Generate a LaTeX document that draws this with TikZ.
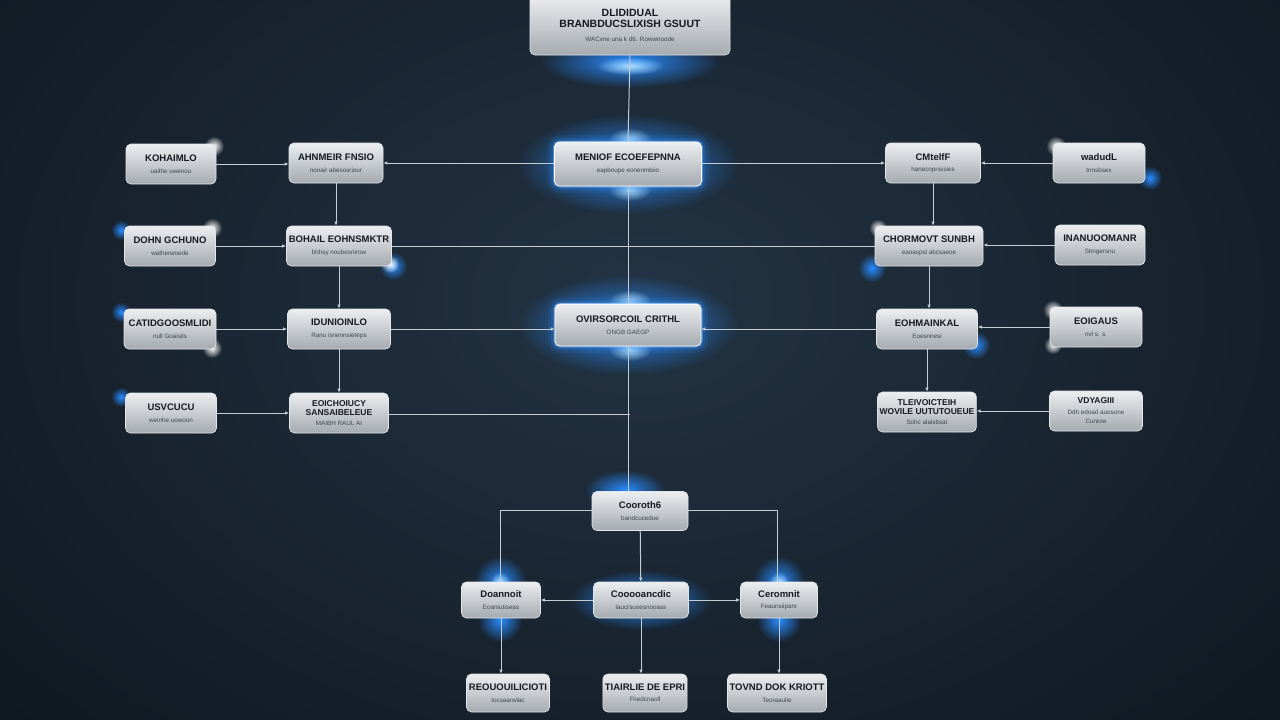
\documentclass[tikz,border=0pt]{standalone}
\usepackage{fontspec}
\setmainfont{Liberation Sans}
\usetikzlibrary{arrows.meta,fadings}
\definecolor{bgdark}{RGB}{10,15,21}
\definecolor{bglight}{RGB}{36,52,68}
\definecolor{boxtop}{RGB}{236,238,240}
\definecolor{boxbot}{RGB}{165,170,176}
\definecolor{boxline}{RGB}{225,230,235}
\definecolor{txt}{RGB}{22,26,32}
\definecolor{subc}{RGB}{64,70,78}
\definecolor{wire}{RGB}{196,204,212}
\definecolor{glowb}{RGB}{40,140,255}
\definecolor{glowc}{RGB}{170,220,255}
\tikzfading[name=glowfade, inner color=transparent!0, outer color=transparent!100]
\newcommand\sbx[1]{{\fontsize{6.3}{7.3}\selectfont\color{subc}#1}}
\newcommand\bxt[2]{\textbf{#1}\\[1pt]\sbx{#2}}
\newcommand\glw[3]{\fill[#3, path fading=glowfade] (#1) circle (#2);}
\newcommand\glwe[4]{\fill[#4, path fading=glowfade] (#1) ellipse (#2 and #3);}
\begin{document}
\begin{tikzpicture}[x=1pt,y=-1pt,
  bx/.style={rounded corners=5pt, draw=boxline, line width=0.7pt,
    top color=boxtop, bottom color=boxbot, text=txt, align=center,
    inner sep=2pt, minimum height=40pt, font=\fontsize{9.5}{10.5}\selectfont},
  aura/.style={preaction={draw=glowb, line width=14pt, opacity=0.10},
    preaction={draw=glowb, line width=8pt, opacity=0.18},
    preaction={draw=glowb!60!white, line width=3pt, opacity=0.5}},
  wr/.style={draw=wire, line width=1pt},
  ar/.style={wr, -{Latex[length=4pt,width=3.5pt]}}
]
\useasboundingbox (0,0) rectangle (1280,720);
\fill[bgdark] (0,0) rectangle (1280,720);
\fill[bglight, path fading=glowfade] (640,300) ellipse (1150 and 820);

% glows
\glwe{630,62}{90}{26}{glowb}
\glwe{630,66}{34}{9}{glowc}
\glwe{628,164}{110}{50}{glowb}
\glwe{628,325}{110}{50}{glowb}
\glwe{630,140}{22}{12}{glowc}
\glwe{630,189}{22}{12}{glowc}
\glwe{630,302}{22}{12}{glowc}
\glwe{630,349}{22}{12}{glowc}
\glwe{625,490}{40}{20}{glowb}
\glwe{641,600}{70}{30}{glowb}
\glw{500,582}{26}{glowb}
\glw{500,620}{22}{glowb}
\glw{779,582}{26}{glowb}
\glw{779,620}{22}{glowb}
\glw{500,582}{10}{glowc}
\glw{779,582}{10}{glowc}
\glw{872,268}{14}{glowb}
\glw{976,345}{14}{glowb}
\glw{1150,178}{12}{glowb}
\glw{121,230}{10}{glowb}
\glw{121,312}{10}{glowb}
\glw{121,397}{10}{glowb}
\glw{393,266}{14}{glowb}
% white sparkles
\glw{214,146}{10}{white}
\glw{212,228}{10}{white}
\glw{212,348}{10}{white}
\glw{390,264}{9}{white}
\glw{1056,146}{10}{white}
\glw{1053,310}{10}{white}
\glw{1053,345}{9}{white}
\glw{878,228}{9}{white}

\node[bx, minimum width=200pt, minimum height=60pt, font=\fontsize{10.5}{11.5}\selectfont] (top) at (630,25) {\textbf{DLIDIDUAL}\\\textbf{BRANBDUCSLIXISH GSUUT}\\[2pt]\sbx{WACvne una k d6. Rowwnoode}};

\node[bx, minimum width=90pt] (l1a) at (171,164) {\bxt{KOHAIMLO}{uaithe uwenou}};
\node[bx, minimum width=94pt] (l2a) at (336,163) {\bxt{AHNMEIR FNSIO}{nonair abesosriour}};
\node[bx, aura, minimum width=147pt, minimum height=44pt, draw=white] (c1) at (628,164) {\bxt{MENIOF ECOEFEPNNA}{eapbnupe eonenmbiio}};
\node[bx, minimum width=95pt] (r2a) at (933,163) {\bxt{CMtelfF}{hanecnpnsisies}};
\node[bx, minimum width=92pt] (r1a) at (1099,163) {\bxt{wadudL}{tnnsbsex}};

\node[bx, minimum width=91pt] (l1b) at (170,246) {\bxt{DOHN GCHUNO}{watherwoede}};
\node[bx, minimum width=105pt] (l2b) at (339,246) {\bxt{BOHAIL EOHNSMKTR}{bhhsy noubesriirow}};
\node[bx, minimum width=108pt] (r2b) at (929,246) {\bxt{CHORMOVT SUNBH}{eaoaspsl abcsaeoe}};
\node[bx, minimum width=90pt] (r1b) at (1100,245) {\bxt{INANUOOMANR}{Stmgersnu}};

\node[bx, minimum width=92pt] (l1c) at (170,329) {\bxt{CATIDGOOSMLIDI}{null Goaisils}};
\node[bx, minimum width=103pt] (l2c) at (339,329) {\bxt{IDUNIOINLO}{Ranu isnennsieteps}};
\node[bx, aura, minimum width=146pt, minimum height=42pt, draw=white] (c2) at (628,325) {\bxt{OVIRSORCOIL CRITHL}{ONGB GAEGP}};
\node[bx, minimum width=101pt] (r2c) at (927,329) {\bxt{EOHMAINKAL}{Eoesnnesi}};
\node[bx, minimum width=92pt] (r1c) at (1096,327) {\bxt{EOIGAUS}{nvl s. s.}};

\node[bx, minimum width=91pt] (l1d) at (171,413) {\bxt{USVCUCU}{weinhe uowoon}};
\node[bx, minimum width=99pt, font=\fontsize{8.5}{9.5}\selectfont] (l2d) at (339,413) {\textbf{EOICHOIUCY}\\\textbf{SANSAIBELEUE}\\\sbx{MAIBH RAUL AI}};
\node[bx, minimum width=98pt, font=\fontsize{8.5}{9.5}\selectfont] (r2d) at (927,412) {\textbf{TLEIVOICTEIH}\\\textbf{WOVILE UUTUTOUEUE}\\\sbx{Sohc alaisbsat}};
\node[bx, minimum width=93pt, font=\fontsize{8.5}{9.5}\selectfont] (r1d) at (1096,411) {\textbf{VDYAGIII}\\[1pt]\sbx{Ddh edoad auosone}\\\sbx{Cuniow}};

\node[bx, minimum width=96pt, minimum height=39pt] (b) at (640,511) {\bxt{Cooroth6}{bandcucedue}};
\node[bx, minimum width=79pt, minimum height=36pt] (bl) at (501,600) {\bxt{Doannoit}{Eoaniutiseas}};
\node[bx, minimum width=95pt, minimum height=36pt] (bm) at (641,600) {\bxt{Cooooancdic}{laucrsuoesnooass}};
\node[bx, minimum width=77pt, minimum height=36pt] (br) at (779,600) {\bxt{Ceromnit}{Feaunsiipanr}};
\node[bx, minimum width=83pt, minimum height=38pt] (bll) at (508,693) {\bxt{REOUOUILICIOTI}{Iocsaarwlac}};
\node[bx, minimum width=83pt, minimum height=38pt] (bmm) at (645,693) {\bxt{TIAIRLIE DE EPRI}{Fhedcnaoll}};
\node[bx, minimum width=82pt, minimum height=38pt] (brr) at (777,693) {\bxt{TOVND DOK KRIOTT}{Teoraaulie}};

\coordinate (j4) at (630,414);
\coordinate (bcl) at (500,510);
\coordinate (bcr) at (777,510);

\draw[wr] (top.south) -- (c1.north);
\draw[wr] (c1.south) -- (c2.north);
\draw[wr] (c2.south) -- (c2.south |- b.north);
\draw[ar] (l1a) -- (l1a -| l2a.west);
\draw[ar] (c1.west |- l2a) -- (l2a);
\draw[ar] (c1.east |- r2a) -- (r2a);
\draw[ar] (r1a) -- (r1a -| r2a.east);
\draw[ar] (l1b) -- (l1b -| l2b.west);
\draw[wr] (l2b) -- (r2b);
\draw[ar] (r1b) -- (r1b -| r2b.east);
\draw[ar] (l1c) -- (l1c -| l2c.west);
\draw[ar] (l2c) -- (l2c -| c2.west);
\draw[ar] (r2c) -- (r2c -| c2.east);
\draw[ar] (r1c) -- (r1c -| r2c.east);
\draw[ar] (l1d) -- (l1d -| l2d.west);
\draw[wr] (l2d.east |- j4) -- (j4);
\draw[ar] (r1d) -- (r1d -| r2d.east);
\draw[ar] (l2a.south) -- (l2a.south |- l2b.north);
\draw[ar] (l2b.south) -- (l2b.south |- l2c.north);
\draw[ar] (l2c.south) -- (l2c.south |- l2d.north);
\draw[ar] (r2a.south) -- (r2a.south |- r2b.north);
\draw[ar] (r2b.south) -- (r2b.south |- r2c.north);
\draw[ar] (r2c.south) -- (r2c.south |- r2d.north);
\draw[wr] (b.west |- bcl) -- (bcl) -- (bl.north -| bcl);
\draw[wr] (b.east |- bcr) -- (bcr) -- (br.north -| bcr);
\draw[ar] (b) -- (bm);
\draw[ar] (bm) -- (bl);
\draw[ar] (bm) -- (br);
\draw[ar] (bl.south) -- (bl.south |- bll.north);
\draw[ar] (bm.south) -- (bm.south |- bmm.north);
\draw[ar] (br.south) -- (br.south |- brr.north);
\end{tikzpicture}
\end{document}
